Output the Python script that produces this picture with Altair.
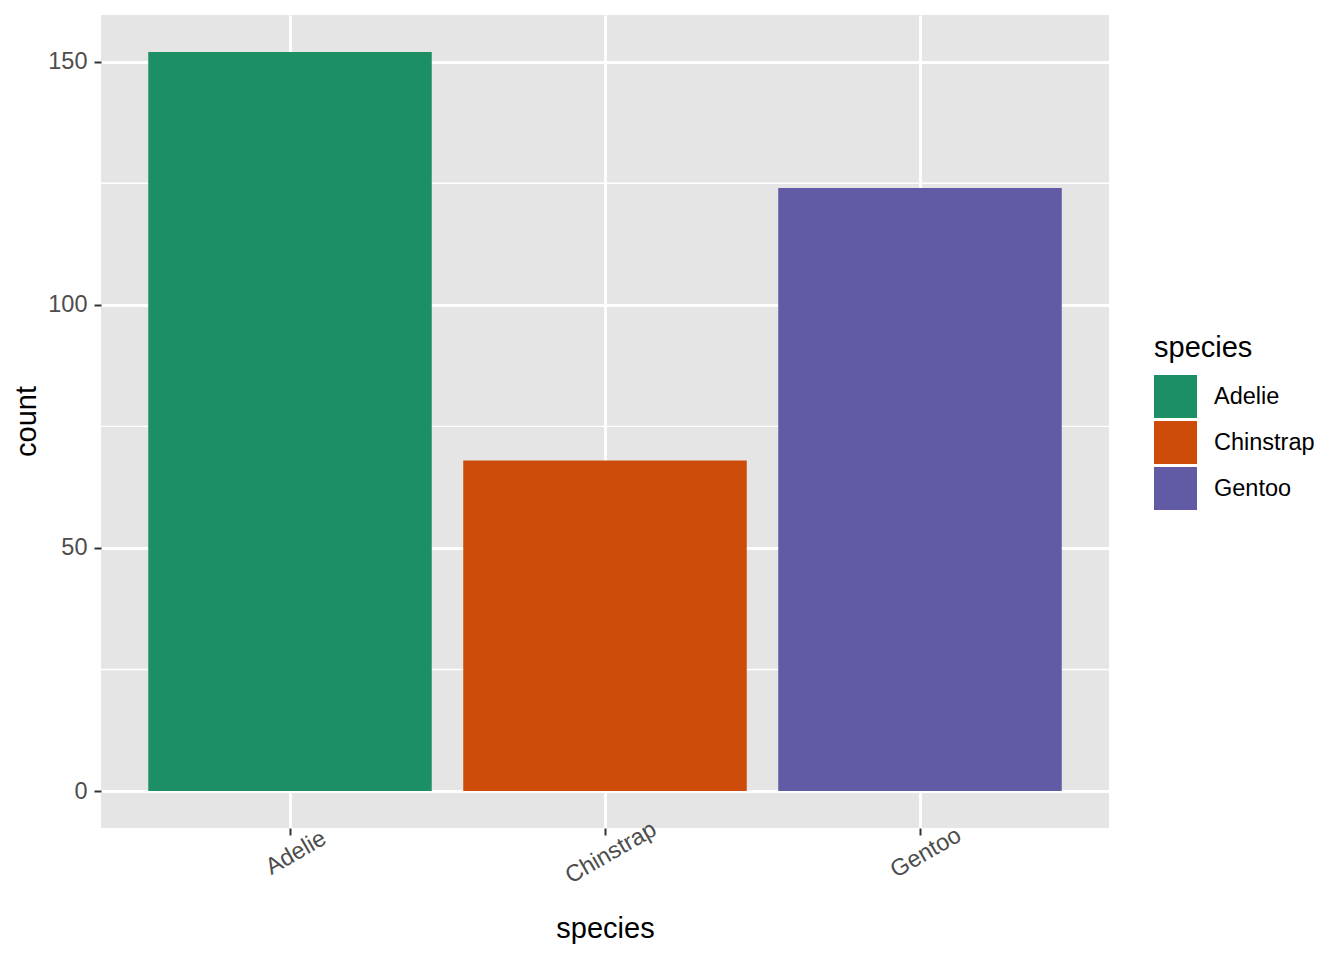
import altair as alt
import pandas as pd

species = ["Adelie", "Chinstrap", "Gentoo"]
counts = [152, 68, 124]
colors = ["#1D8F65", "#CD4C0A", "#615AA4"]
major_ticks = [0, 50, 100, 150]
minor_ticks = [25, 75, 125]

df = pd.DataFrame({"species": species, "count": counts})
minor_df = pd.DataFrame({"v": minor_ticks})

FONT = "Liberation Sans"
ydom = [-7.6, 159.6]

minor = alt.Chart(minor_df).mark_rule(color="white", strokeWidth=1.4).encode(
    y=alt.Y("v:Q", scale=alt.Scale(domain=ydom, nice=False, zero=False))
)

bars = alt.Chart(df).mark_bar().encode(
    x=alt.X(
        "species:N",
        sort=species,
        scale=alt.Scale(paddingInner=0.1, paddingOuter=0.15),
        axis=alt.Axis(
            title="species",
            labelAngle=-30,
            labelAlign="center",
            labelBaseline="top",
            labelPadding=7,
            labelFontSize=23.5,
            labelColor="#4D4D4D",
            tickSize=7,
            tickWidth=2,
            tickColor="#333333",
            domain=False,
            grid=True,
            gridColor="white",
            gridWidth=2.8,
            bandPosition=0.5,
            titleFontSize=29,
            titleFontWeight="normal",
            titleColor="black",
            titleX=504,
            titleY=100,
            titleAlign="center",
            titleBaseline="middle",
        ),
    ),
    y=alt.Y(
        "count:Q",
        scale=alt.Scale(domain=ydom, nice=False, zero=False),
        axis=alt.Axis(
            title="count",
            values=major_ticks,
            labelPadding=7,
            labelFontSize=23.5,
            labelColor="#4D4D4D",
            tickSize=7,
            tickWidth=2,
            tickColor="#333333",
            domain=False,
            grid=True,
            gridColor="white",
            gridWidth=2.8,
            titleFontSize=29,
            titleFontWeight="normal",
            titleColor="black",
            titleAngle=-90,
            titleX=-75,
            titleY=406,
            titleAlign="center",
            titleBaseline="middle",
        ),
    ),
    fill=alt.Fill(
        "species:N",
        scale=alt.Scale(domain=species, range=colors),
        legend=alt.Legend(
            title="species",
            orient="none",
            legendX=1053,
            legendY=319,
            padding=0,
            titleFontSize=29,
            titleFontWeight="normal",
            titleColor="black",
            titlePadding=12,
            labelFontSize=23.5,
            labelColor="black",
            labelOffset=17,
            symbolType="square",
            symbolSize=1849,
            symbolStrokeWidth=0,
            symbolOpacity=1,
            rowPadding=3,
        ),
    ),
)

chart = (
    alt.layer(minor, bars)
    .properties(
        width=1008,
        height=813,
        autosize=alt.AutoSizeParams(type="none"),
        padding={"left": 93, "top": 7, "right": 227, "bottom": 124},
    )
    .configure(font=FONT)
    .configure_view(fill="#E5E5E5", stroke=None)
)

chart.save("out.html", embed_options={"renderer": "svg", "actions": False})
